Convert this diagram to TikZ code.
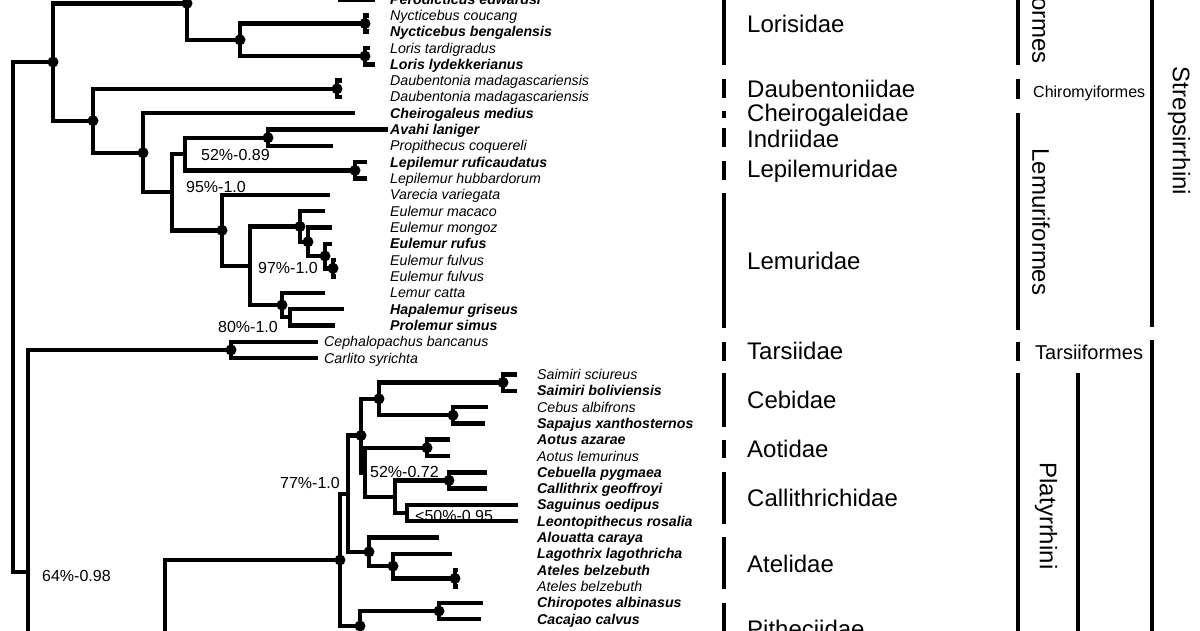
\documentclass[tikz,border=0pt]{standalone}
\usepackage{fontspec}
\setmainfont{Liberation Sans}
\begin{document}
\begin{tikzpicture}[x=1pt,y=-1pt]
\tikzset{
 edge/.style={line width=4.4pt, line join=miter, line cap=butt},
 nd/.style={fill=black},
 spi/.style={anchor=base west, inner sep=0pt, font=\fontsize{14.2}{16}\selectfont\itshape},
 spbi/.style={anchor=base west, inner sep=0pt, font=\fontsize{14.2}{16}\selectfont\bfseries\itshape},
 famlbl/.style={anchor=base west, inner sep=0pt, font=\fontsize{24}{28}\selectfont},
 supp/.style={anchor=base west, inner sep=0pt, font=\fontsize{16}{18}\selectfont},
 vlbl/.style={rotate=-90, inner sep=0pt, font=\fontsize{24}{28}\selectfont},
 bar/.style={line width=4.2pt, line cap=butt},
}
\useasboundingbox (0,0) rectangle (1200,630);
\fill[white] (0,0) rectangle (1200,630);
\clip (0,0) rectangle (1200,630);

% ---------- internal nodes ----------
\coordinate (nRoot) at (13,317);
\coordinate (nStrep) at (53,62);
\coordinate (nLorif) at (187,3.3);
\coordinate (cUp) at (300,-31.8);
\coordinate (nPero) at (340,-25);
\coordinate (nLoris) at (240,39.8);
\coordinate (nNyc) at (365,23.5);
\coordinate (nLor) at (365,56.1);
\coordinate (nLemChir) at (93,120.7);
\coordinate (nDaub) at (337,88.8);
\coordinate (nLemf) at (143,152.7);
\coordinate (nA) at (172,192.2);
\coordinate (nIL) at (185,154);
\coordinate (nInd) at (268,137.7);
\coordinate (nLep) at (355,170.4);
\coordinate (nLemd) at (222,230.3);
\coordinate (nB) at (250,265.8);
\coordinate (nEuA) at (300,226.5);
\coordinate (nEuB) at (308,241.8);
\coordinate (nEuC) at (325,256);
\coordinate (nEuD) at (333,268.3);
\coordinate (nLC) at (282,305);
\coordinate (nHP) at (290,317.2);
\coordinate (nHap) at (28,572);
\coordinate (nTar) at (231,349.9);
\coordinate (nAnth) at (165,794);
\coordinate (nPlat) at (340,560);
\coordinate (nC) at (348,493.7);
\coordinate (nCAC) at (361,435.5);
\coordinate (nCeb) at (379,398.8);
\coordinate (nSai) at (503,382.5);
\coordinate (nCebus) at (453,415.2);
\coordinate (nAC) at (365,472.3);
\coordinate (nAot) at (427,447.8);
\coordinate (nCal) at (395,496.7);
\coordinate (nCebu) at (449,480.4);
\coordinate (nSag) at (407,513.1);
\coordinate (nAte) at (369,551.8);
\coordinate (nAL) at (393,566.1);
\coordinate (nAtb) at (455,578.4);
\coordinate (nPit) at (360,626);
\coordinate (nCC) at (439,611);
\coordinate (cPit) at (420,641);

% ---------- tips ----------
\coordinate (t0) at (375,0);
\coordinate (t1) at (369,15.3);
\coordinate (t2) at (369,31.6);
\coordinate (t3) at (370,48.0);
\coordinate (t4) at (375,64.3);
\coordinate (t5) at (342,80.6);
\coordinate (t6) at (342,96.9);
\coordinate (t7) at (355,113.2);
\coordinate (t8) at (388,129.6);
\coordinate (t9) at (333,145.9);
\coordinate (t10) at (367,162.2);
\coordinate (t11) at (367,178.5);
\coordinate (t12) at (330,194.8);
\coordinate (t13) at (325,211.2);
\coordinate (t14) at (332,227.5);
\coordinate (t15) at (332,243.8);
\coordinate (t16) at (336,260.1);
\coordinate (t17) at (336,276.4);
\coordinate (t18) at (325,292.8);
\coordinate (t19) at (344,309.1);
\coordinate (t20) at (335,325.4);
\coordinate (t21) at (318,341.7);
\coordinate (t22) at (318,358.0);
\coordinate (t23) at (517,374.4);
\coordinate (t24) at (517,390.7);
\coordinate (t25) at (488,407.0);
\coordinate (t26) at (485,423.3);
\coordinate (t27) at (450,439.6);
\coordinate (t28) at (450,456.0);
\coordinate (t29) at (487,472.3);
\coordinate (t30) at (487,488.6);
\coordinate (t31) at (518,504.9);
\coordinate (t32) at (518,521.2);
\coordinate (t33) at (439,537.6);
\coordinate (t34) at (452,553.9);
\coordinate (t35) at (458,570.2);
\coordinate (t36) at (458,586.5);
\coordinate (t37) at (483,602.8);
\coordinate (t38) at (481,619.2);

% ---------- connectors ----------
\draw[edge] (nRoot) |- (nStrep);
\draw[edge] (nRoot) |- (nHap);
\draw[edge] (nStrep) |- (nLorif);
\draw[edge] (nStrep) |- (nLemChir);
\draw[edge] (nLorif) |- (cUp);
\draw[edge] (nLorif) |- (nLoris);
\draw[edge] (nPero) |- (t0);
\draw[edge] (nLoris) |- (nNyc);
\draw[edge] (nLoris) |- (nLor);
\draw[edge] (nNyc) |- (t1);
\draw[edge] (nNyc) |- (t2);
\draw[edge] (nLor) |- (t3);
\draw[edge] (nLor) |- (t4);
\draw[edge] (nLemChir) |- (nDaub);
\draw[edge] (nLemChir) |- (nLemf);
\draw[edge] (nDaub) |- (t5);
\draw[edge] (nDaub) |- (t6);
\draw[edge] (nLemf) |- (t7);
\draw[edge] (nLemf) |- (nA);
\draw[edge] (nA) |- (nIL);
\draw[edge] (nA) |- (nLemd);
\draw[edge] (nIL) |- (nInd);
\draw[edge] (nIL) |- (nLep);
\draw[edge] (nInd) |- (t8);
\draw[edge] (nInd) |- (t9);
\draw[edge] (nLep) |- (t10);
\draw[edge] (nLep) |- (t11);
\draw[edge] (nLemd) |- (t12);
\draw[edge] (nLemd) |- (nB);
\draw[edge] (nB) |- (nEuA);
\draw[edge] (nB) |- (nLC);
\draw[edge] (nEuA) |- (t13);
\draw[edge] (nEuA) |- (nEuB);
\draw[edge] (nEuB) |- (t14);
\draw[edge] (nEuB) |- (nEuC);
\draw[edge] (nEuC) |- (t15);
\draw[edge] (nEuC) |- (nEuD);
\draw[edge] (nEuD) |- (t16);
\draw[edge] (nEuD) |- (t17);
\draw[edge] (nLC) |- (t18);
\draw[edge] (nLC) |- (nHP);
\draw[edge] (nHP) |- (t19);
\draw[edge] (nHP) |- (t20);
\draw[edge] (nHap) |- (nTar);
\draw[edge] (nHap) |- (nAnth);
\draw[edge] (nTar) |- (t21);
\draw[edge] (nTar) |- (t22);
\draw[edge] (nAnth) |- (nPlat);
\draw[edge] (nPlat) |- (nC);
\draw[edge] (nPlat) |- (nPit);
\draw[edge] (nC) |- (nCAC);
\draw[edge] (nC) |- (nAte);
\draw[edge] (nCAC) |- (nCeb);
\draw[edge] (nCAC) |- (nAC);
\draw[edge] (nCeb) |- (nSai);
\draw[edge] (nCeb) |- (nCebus);
\draw[edge] (nSai) |- (t23);
\draw[edge] (nSai) |- (t24);
\draw[edge] (nCebus) |- (t25);
\draw[edge] (nCebus) |- (t26);
\draw[edge] (nAC) |- (nAot);
\draw[edge] (nAC) |- (nCal);
\draw[edge] (nAot) |- (t27);
\draw[edge] (nAot) |- (t28);
\draw[edge] (nCal) |- (nCebu);
\draw[edge] (nCal) |- (nSag);
\draw[edge] (nCebu) |- (t29);
\draw[edge] (nCebu) |- (t30);
\draw[edge] (nSag) |- (t31);
\draw[edge] (nSag) |- (t32);
\draw[edge] (nAte) |- (t33);
\draw[edge] (nAte) |- (nAL);
\draw[edge] (nAL) |- (t34);
\draw[edge] (nAL) |- (nAtb);
\draw[edge] (nAtb) |- (t35);
\draw[edge] (nAtb) |- (t36);
\draw[edge] (nPit) |- (nCC);
\draw[edge] (nPit) |- (cPit);
\draw[edge] (nCC) |- (t37);
\draw[edge] (nCC) |- (t38);

% ---------- support dots ----------
\foreach \n in {nStrep,nLorif,nLoris,nNyc,nLor,nLemChir,nDaub,nLemf,nInd,nLep,nLemd,nEuA,nEuB,nEuC,nEuD,nLC,nTar,nSai,nCeb,nCebus,nCAC,nAot,nCebu,nPlat,nAte,nAL,nAtb,nCC,nPit}
  \fill[nd] (\n) circle[radius=5.5];

% ---------- support labels ----------
\node[supp] (l1) at (201,160) {52\%-0.89};
\node[supp] (l2) at (186,192) {95\%-1.0};
\node[supp] (l3) at (258,273) {97\%-1.0};
\node[supp] (l4) at (218,332) {80\%-1.0};
\node[supp] (l5) at (370,477) {52\%-0.72};
\node[supp] (l6) at (280,488) {77\%-1.0};
\node[supp] (l7) at (415,521) {<50\%-0.95};
\node[supp] (l8) at (42,581) {64\%-0.98};

% ---------- species ----------
\node[spbi] (s0) at (390,4) {Perodicticus edwardsi};
\node[spi] (s1) at (390,20.3) {Nycticebus coucang};
\node[spbi] (s2) at (390,36.6) {Nycticebus bengalensis};
\node[spi] (s3) at (390,53.0) {Loris tardigradus};
\node[spbi] (s4) at (390,69.3) {Loris lydekkerianus};
\node[spi] (s5) at (390,85.6) {Daubentonia madagascariensis};
\node[spi] (s6) at (390,101.9) {Daubentonia madagascariensis};
\node[spbi] (s7) at (390,118.2) {Cheirogaleus medius};
\node[spbi] (s8) at (390,134.6) {Avahi laniger};
\node[spi] (s9) at (390,150.9) {Propithecus coquereli};
\node[spbi] (s10) at (390,167.2) {Lepilemur ruficaudatus};
\node[spi] (s11) at (390,183.5) {Lepilemur hubbardorum};
\node[spi] (s12) at (390,199.8) {Varecia variegata};
\node[spi] (s13) at (390,216.2) {Eulemur macaco};
\node[spi] (s14) at (390,232.5) {Eulemur mongoz};
\node[spbi] (s15) at (390,248.8) {Eulemur rufus};
\node[spi] (s16) at (390,265.1) {Eulemur fulvus};
\node[spi] (s17) at (390,281.4) {Eulemur fulvus};
\node[spi] (s18) at (390,297.8) {Lemur catta};
\node[spbi] (s19) at (390,314.1) {Hapalemur griseus};
\node[spbi] (s20) at (390,330.4) {Prolemur simus};
\node[spi] (s21) at (324,346.7) {Cephalopachus bancanus};
\node[spi] (s22) at (324,363.0) {Carlito syrichta};
\node[spi] (s23) at (537,379.4) {Saimiri sciureus};
\node[spbi] (s24) at (537,395.7) {Saimiri boliviensis};
\node[spi] (s25) at (537,412.0) {Cebus albifrons};
\node[spbi] (s26) at (537,428.3) {Sapajus xanthosternos};
\node[spbi] (s27) at (537,444.6) {Aotus azarae};
\node[spi] (s28) at (537,461.0) {Aotus lemurinus};
\node[spbi] (s29) at (537,477.3) {Cebuella pygmaea};
\node[spbi] (s30) at (537,493.6) {Callithrix geoffroyi};
\node[spbi] (s31) at (537,509.9) {Saguinus oedipus};
\node[spbi] (s32) at (537,526.2) {Leontopithecus rosalia};
\node[spbi] (s33) at (537,542.6) {Alouatta caraya};
\node[spbi] (s34) at (537,558.9) {Lagothrix lagothricha};
\node[spbi] (s35) at (537,575.2) {Ateles belzebuth};
\node[spi] (s36) at (537,591.5) {Ateles belzebuth};
\node[spbi] (s37) at (537,607.8) {Chiropotes albinasus};
\node[spbi] (s38) at (537,624.2) {Cacajao calvus};

% ---------- family bars and labels ----------
\draw[bar] (724,-10) -- (724,65);
\draw[bar] (724,79) -- (724,98);
\draw[bar] (724,111) -- (724,118);
\draw[bar] (724,128) -- (724,147);
\draw[bar] (724,161) -- (724,180);
\draw[bar] (724,193) -- (724,328);
\draw[bar] (724,342) -- (724,361);
\draw[bar] (724,373) -- (724,427);
\draw[bar] (724,440) -- (724,458);
\draw[bar] (724,472) -- (724,524);
\draw[bar] (724,537) -- (724,589);
\draw[bar] (724,603) -- (724,640);

\node[famlbl] (f1) at (747,32) {Lorisidae};
\node[famlbl] (f2) at (747,97) {Daubentoniidae};
\node[famlbl] (f3) at (747,121.5) {Cheirogaleidae};
\node[famlbl] (f4) at (747,147) {Indriidae};
\node[famlbl] (f5) at (747,177) {Lepilemuridae};
\node[famlbl] (f6) at (747,269) {Lemuridae};
\node[famlbl] (f7) at (747,359) {Tarsiidae};
\node[famlbl] (f8) at (747,408) {Cebidae};
\node[famlbl] (f9) at (747,457) {Aotidae};
\node[famlbl] (f10) at (747,506) {Callithrichidae};
\node[famlbl] (f11) at (747,572) {Atelidae};
\node[famlbl] (f12) at (747,637) {Pitheciidae};

% ---------- higher-level bars and labels ----------
\draw[bar] (1018,-10) -- (1018,65);
\draw[bar] (1018,79) -- (1018,99);
\draw[bar] (1018,113) -- (1018,330);
\draw[bar] (1018,342) -- (1018,361);
\draw[bar] (1018,373) -- (1018,640);
\draw[bar] (1078,373) -- (1078,640);
\draw[bar] (1152,-10) -- (1152,327);
\draw[bar] (1152,340) -- (1152,640);

\node[vlbl] (o1) at (1041,-1.4) {Lorisiformes};
\node[anchor=base west, inner sep=0pt, font=\fontsize{16}{18}\selectfont] (o2) at (1033,97) {Chiromyiformes};
\node[vlbl] (o3) at (1041,222) {Lemuriformes};
\node[anchor=base west, inner sep=0pt, font=\fontsize{20}{24}\selectfont] (o4) at (1035,359) {Tarsiiformes};
\node[vlbl] (o5) at (1046,516) {Platyrrhini};
\node[vlbl] (o6) at (1179,131) {Strepsirrhini};
\end{tikzpicture}
\end{document}
